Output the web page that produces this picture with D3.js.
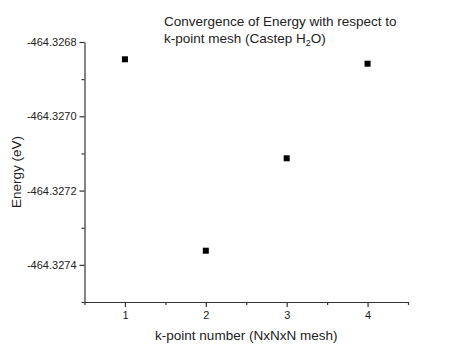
<!DOCTYPE html>
<html lang="en">
<head>
    <meta charset="UTF-8">
    <title>Convergence of Energy with respect to k-point mesh</title>
    <script src="https://d3js.org/d3.v7.min.js"></script>
    <style>
        body {
            background-color: white;
            margin: 0;
            padding: 0;
            font-family: 'Liberation Sans', Arial, sans-serif;
        }
        .axis path, .axis line {
            stroke: #333;
            stroke-width: 1.2px;
        }
        .axis text {
            font-size: 11px;
            fill: #222;
            font-family: 'Liberation Sans', Arial, sans-serif;
        }
        .label {
            font-size: 13.5px;
            fill: #222;
        }
    </style>
</head>
<body>
    <script>
        // k-point mesh sizes and final energies (eV)
        var kpoints = [1, 2, 3, 4];
        var energies = [-464.3268466, -464.3273619, -464.3271131, -464.3268584];
        var yTicks = [-464.3268, -464.3270, -464.3272, -464.3274];
        var yMinorTicks = [-464.3269, -464.3271, -464.3273, -464.3275];
        var xTicks = [1, 2, 3, 4];
        var xMinorTicks = [0.5, 1.5, 2.5, 3.5, 4.5];

        var width = 474, height = 362;
        // note: "top" is window.top, so use plotTop etc.
        var plotLeft = 84.5, plotRight = 408, plotTop = 42, plotBottom = 302;

        var svg = d3.select("body").append("svg")
            .attr("width", width)
            .attr("height", height);

        var x = d3.scaleLinear().domain([0.5, 4.5]).range([plotLeft, plotRight]);
        var y = d3.scaleLinear().domain([-464.3275, -464.3268]).range([plotBottom, plotTop]);

        // plain hyphen instead of the unicode minus d3 uses
        var fmtY = function(d) { return d.toFixed(4); };

        // minor ticks first so the major axis draws over them
        svg.append("g")
            .attr("class", "axis")
            .attr("transform", "translate(0," + plotBottom + ")")
            .call(d3.axisBottom(x).tickValues(xMinorTicks).tickSize(3).tickFormat(""))
            .select(".domain").remove();

        svg.append("g")
            .attr("class", "axis")
            .attr("transform", "translate(" + plotLeft + ",0)")
            .call(d3.axisLeft(y).tickValues(yMinorTicks).tickSize(3).tickFormat(""))
            .select(".domain").remove();

        svg.append("g")
            .attr("class", "axis")
            .attr("transform", "translate(0," + plotBottom + ")")
            .call(d3.axisBottom(x).tickValues(xTicks).tickSize(5).tickSizeOuter(0).tickPadding(4).tickFormat(d3.format("d")));

        svg.append("g")
            .attr("class", "axis")
            .attr("transform", "translate(" + plotLeft + ",0)")
            .call(d3.axisLeft(y).tickValues(yTicks).tickSize(5).tickSizeOuter(0).tickPadding(3).tickFormat(fmtY));

        // data points
        svg.append("g")
            .selectAll("rect")
            .data(kpoints)
            .enter().append("rect")
            .attr("x", function(d) { return x(d) - 3; })
            .attr("y", function(d, i) { return y(energies[i]) - 3; })
            .attr("width", 6)
            .attr("height", 6)
            .attr("fill", "black");

        // axis titles
        svg.append("text")
            .attr("class", "label")
            .attr("x", (plotLeft + plotRight) / 2)
            .attr("y", 340)
            .attr("text-anchor", "middle")
            .text("k-point number (NxNxN mesh)");

        svg.append("text")
            .attr("class", "label")
            .attr("transform", "translate(21," + (plotTop + plotBottom) / 2 + ") rotate(-90)")
            .attr("text-anchor", "middle")
            .text("Energy (eV)");

        // title, two lines with H2O subscript
        var title = svg.append("text")
            .attr("class", "label")
            .attr("x", 164)
            .attr("y", 26);
        title.append("tspan").text("Convergence of Energy with respect to");
        var line2 = svg.append("text")
            .attr("class", "label")
            .attr("x", 164)
            .attr("y", 43);
        line2.append("tspan").text("k-point mesh (Castep H");
        line2.append("tspan").attr("font-size", "9px").attr("dy", 3).text("2");
        line2.append("tspan").attr("dy", -3).text("O)");
    </script>
</body>
</html>
